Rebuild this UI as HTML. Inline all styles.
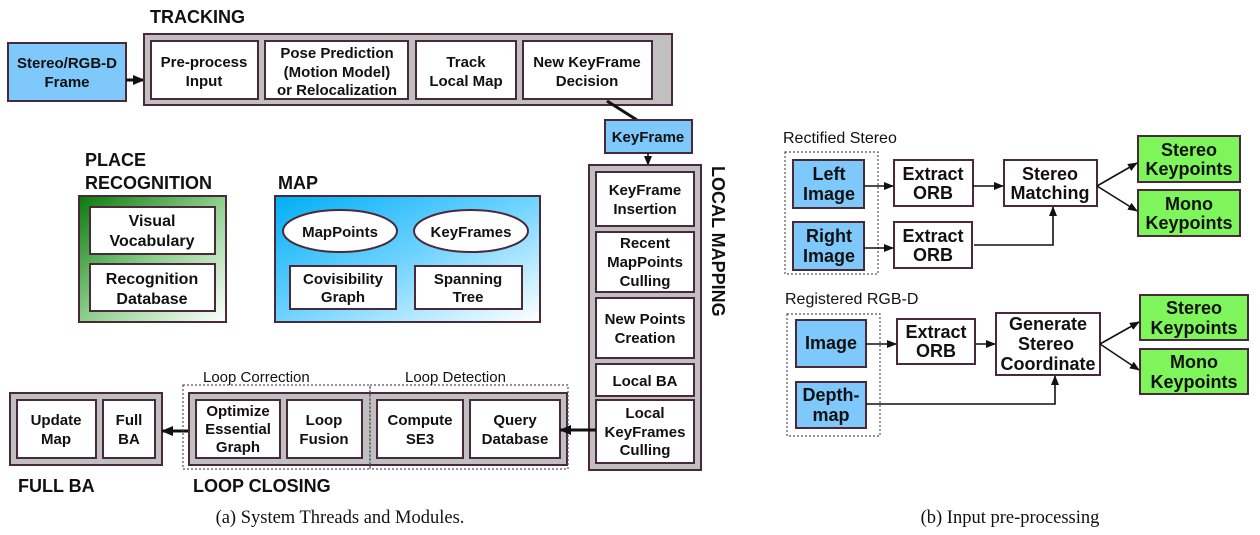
<!DOCTYPE html>
<html><head><meta charset="utf-8"><style>
html,body{margin:0;padding:0;background:#fff;}
svg{display:block;}
text{font-family:"Liberation Sans",sans-serif;font-weight:bold;fill:#111;text-anchor:middle;}
.t{font-size:15px;}
.r{font-size:18px;}
.h{font-size:18px;text-anchor:start;}
.n{font-weight:normal;font-size:15px;text-anchor:start;}
.cap{font-family:"Liberation Serif",serif;font-weight:normal;font-size:18.5px;}
.g{fill:#c0c0c0;stroke:#4a2a3a;stroke-width:2;}
.w{fill:#fff;stroke:#4a2a3a;stroke-width:2;}
.b{fill:#7ec8fb;stroke:#4a2a3a;stroke-width:2;}
.gr{fill:#7ef55a;stroke:#4a2a3a;stroke-width:2;}
.d{fill:none;stroke:#555;stroke-width:1.2;stroke-dasharray:2,2;}
.l{stroke:#111;stroke-width:1.6;fill:none;}
.lt{stroke:#111;stroke-width:3;fill:none;}
</style></head><body>
<svg width="1260" height="535" viewBox="0 0 1260 535">
<defs>
<marker id="a" markerWidth="10" markerHeight="8" refX="9" refY="4" orient="auto" markerUnits="userSpaceOnUse"><path d="M0,0 L10,4 L0,8z" fill="#111"/></marker>
<marker id="A" markerWidth="12" markerHeight="10" refX="11" refY="5" orient="auto" markerUnits="userSpaceOnUse"><path d="M0,0 L12,5 L0,10z" fill="#111"/></marker>
<linearGradient id="pg" x1="0" y1="0" x2="1" y2="1"><stop offset="0" stop-color="#0a7a0a"/><stop offset="0.5" stop-color="#8ccf8c"/><stop offset="1" stop-color="#ffffff"/></linearGradient>
<linearGradient id="mg" x1="0" y1="0" x2="1" y2="1"><stop offset="0" stop-color="#00aef5"/><stop offset="0.5" stop-color="#6fd3ff"/><stop offset="1" stop-color="#ffffff"/></linearGradient>
</defs>

<text class="h" x="150" y="23">TRACKING</text>
<rect class="b" x="8" y="43" width="118" height="58"/>
<text class="t" x="67" y="68">Stereo/RGB-D</text><text class="t" x="67" y="87">Frame</text>
<line class="lt" x1="126" y1="80" x2="144" y2="80" marker-end="url(#A)"/>
<rect class="g" x="144" y="34" width="528" height="71"/>
<rect class="w" x="151" y="41" width="107" height="58"/>
<text class="t" x="204" y="67">Pre-process</text><text class="t" x="204" y="86">Input</text>
<rect class="w" x="265" y="41" width="143" height="58"/>
<text class="t" x="337" y="58">Pose Prediction</text><text class="t" x="337" y="77">(Motion Model)</text><text class="t" x="337" y="95">or Relocalization</text>
<rect class="w" x="416" y="41" width="100" height="58"/>
<text class="t" x="466" y="67">Track</text><text class="t" x="466" y="86">Local Map</text>
<rect class="w" x="523" y="41" width="129" height="58"/>
<text class="t" x="587" y="67">New KeyFrame</text><text class="t" x="587" y="86">Decision</text>
<line class="lt" x1="607" y1="101" x2="637" y2="120"/>
<rect class="b" x="605" y="120" width="87" height="33"/>
<text class="t" x="648" y="142">KeyFrame</text>
<line class="l" x1="648" y1="153" x2="648" y2="165" marker-end="url(#a)"/>

<rect class="g" x="589" y="165" width="112" height="305"/>
<rect class="w" x="596" y="172" width="98" height="54"/>
<text class="t" x="645" y="195">KeyFrame</text><text class="t" x="645" y="214">Insertion</text>
<rect class="w" x="596" y="232" width="98" height="60"/>
<text class="t" x="645" y="248">Recent</text><text class="t" x="645" y="267">MapPoints</text><text class="t" x="645" y="286">Culling</text>
<rect class="w" x="596" y="298" width="98" height="60"/>
<text class="t" x="645" y="324">New Points</text><text class="t" x="645" y="343">Creation</text>
<rect class="w" x="596" y="364" width="98" height="32"/>
<text class="t" x="645" y="386">Local BA</text>
<rect class="w" x="596" y="400" width="98" height="63"/>
<text class="t" x="645" y="418">Local</text><text class="t" x="645" y="437">KeyFrames</text><text class="t" x="645" y="455">Culling</text>
<text class="h" transform="translate(712,166) rotate(90)" x="0" y="0">LOCAL MAPPING</text>

<text class="h" x="85" y="166">PLACE</text>
<text class="h" x="85" y="189">RECOGNITION</text>
<rect x="79" y="196" width="147" height="126" fill="url(#pg)" stroke="#4a2a3a" stroke-width="2"/>
<rect class="w" x="90" y="207" width="125" height="47"/>
<text class="t" x="152" y="226" style="font-size:16px">Visual</text><text class="t" x="152" y="246" style="font-size:16px">Vocabulary</text>
<rect class="w" x="90" y="264" width="125" height="47"/>
<text class="t" x="152" y="284" style="font-size:16px">Recognition</text><text class="t" x="152" y="304" style="font-size:16px">Database</text>

<text class="h" x="278" y="189">MAP</text>
<rect x="275" y="196" width="265" height="126" fill="url(#mg)" stroke="#4a2a3a" stroke-width="2"/>
<ellipse cx="340" cy="231" rx="57" ry="21" fill="#fff" stroke="#4a2a3a" stroke-width="2"/>
<text class="t" x="340" y="237">MapPoints</text>
<ellipse cx="471" cy="231" rx="57" ry="21" fill="#fff" stroke="#4a2a3a" stroke-width="2"/>
<text class="t" x="471" y="237">KeyFrames</text>
<rect class="w" x="290" y="266" width="106" height="43"/>
<text class="t" x="343" y="284">Covisibility</text><text class="t" x="343" y="302">Graph</text>
<rect class="w" x="415" y="266" width="107" height="43"/>
<text class="t" x="468" y="284">Spanning</text><text class="t" x="468" y="302">Tree</text>

<rect class="g" x="10" y="393" width="152" height="72"/>
<rect class="w" x="17" y="400" width="79" height="58"/>
<text class="t" x="56" y="425">Update</text><text class="t" x="56" y="444">Map</text>
<rect class="w" x="103" y="400" width="52" height="58"/>
<text class="t" x="129" y="425">Full</text><text class="t" x="129" y="444">BA</text>
<line class="lt" x1="190" y1="431" x2="162" y2="431" marker-end="url(#A)"/>
<text class="h" x="18" y="492">FULL BA</text>

<rect class="g" x="189" y="393" width="378" height="72"/>
<rect class="w" x="196" y="400" width="84" height="58"/>
<text class="t" x="238" y="416">Optimize</text><text class="t" x="238" y="434">Essential</text><text class="t" x="238" y="452">Graph</text>
<rect class="w" x="287" y="400" width="75" height="58"/>
<text class="t" x="324" y="425">Loop</text><text class="t" x="324" y="444">Fusion</text>
<rect class="w" x="377" y="400" width="86" height="58"/>
<text class="t" x="420" y="425">Compute</text><text class="t" x="420" y="444">SE3</text>
<rect class="w" x="470" y="400" width="90" height="58"/>
<text class="t" x="515" y="425">Query</text><text class="t" x="515" y="444">Database</text>
<rect class="d" x="183" y="385" width="187" height="84"/>
<rect class="d" x="370" y="385" width="198" height="84"/>
<text class="n" x="203" y="382">Loop Correction</text>
<text class="n" x="405" y="382">Loop Detection</text>
<line class="lt" x1="596" y1="430" x2="560" y2="430" marker-end="url(#A)"/>
<text class="h" x="193" y="492">LOOP CLOSING</text>

<text class="cap" x="340" y="523">(a) System Threads and Modules.</text>

<text class="n" x="783" y="143" style="font-size:16px">Rectified Stereo</text>
<rect class="d" x="785" y="152" width="93" height="122"/>
<rect class="b" x="793" y="160" width="71" height="48"/>
<text class="r" x="829" y="180">Left</text><text class="r" x="829" y="200">Image</text>
<rect class="b" x="793" y="222" width="71" height="48"/>
<text class="r" x="829" y="242">Right</text><text class="r" x="829" y="262">Image</text>
<rect class="w" x="894" y="160" width="79" height="46"/>
<text class="r" x="933" y="180">Extract</text><text class="r" x="933" y="199">ORB</text>
<rect class="w" x="894" y="222" width="78" height="46"/>
<text class="r" x="933" y="242">Extract</text><text class="r" x="933" y="261">ORB</text>
<rect class="w" x="1004" y="160" width="93" height="46"/>
<text class="r" x="1050" y="180">Stereo</text><text class="r" x="1050" y="199">Matching</text>
<rect class="gr" x="1138" y="136" width="102" height="46"/>
<text class="r" x="1189" y="156">Stereo</text><text class="r" x="1189" y="175">Keypoints</text>
<rect class="gr" x="1138" y="190" width="102" height="46"/>
<text class="r" x="1189" y="210">Mono</text><text class="r" x="1189" y="229">Keypoints</text>
<line class="l" x1="864" y1="186" x2="893" y2="186" marker-end="url(#a)"/>
<line class="l" x1="864" y1="248" x2="893" y2="248" marker-end="url(#a)"/>
<line class="l" x1="973" y1="186" x2="1003" y2="186" marker-end="url(#a)"/>
<polyline class="l" points="974,245 1053,245 1053,207" marker-end="url(#a)"/>
<line class="l" x1="1097" y1="186" x2="1137" y2="163" marker-end="url(#a)"/>
<line class="l" x1="1097" y1="186" x2="1137" y2="211" marker-end="url(#a)"/>

<text class="n" x="785" y="304" style="font-size:16px">Registered RGB-D</text>
<rect class="d" x="787" y="314" width="93" height="122"/>
<rect class="b" x="796" y="320" width="70" height="47"/>
<text class="r" x="831" y="349">Image</text>
<rect class="b" x="796" y="382" width="70" height="46"/>
<text class="r" x="831" y="401">Depth-</text><text class="r" x="831" y="421">map</text>
<rect class="w" x="897" y="319" width="78" height="45"/>
<text class="r" x="936" y="338">Extract</text><text class="r" x="936" y="357">ORB</text>
<rect class="w" x="996" y="313" width="104" height="62"/>
<text class="r" x="1048" y="330">Generate</text><text class="r" x="1046" y="350">Stereo</text><text class="r" x="1048" y="370">Coordinate</text>
<rect class="gr" x="1140" y="295" width="108" height="45"/>
<text class="r" x="1194" y="314">Stereo</text><text class="r" x="1194" y="334">Keypoints</text>
<rect class="gr" x="1140" y="349" width="108" height="45"/>
<text class="r" x="1194" y="368">Mono</text><text class="r" x="1194" y="388">Keypoints</text>
<line class="l" x1="866" y1="344" x2="896" y2="344" marker-end="url(#a)"/>
<line class="l" x1="976" y1="344" x2="995" y2="344" marker-end="url(#a)"/>
<polyline class="l" points="866,404 1055,404 1055,376" marker-end="url(#a)"/>
<line class="l" x1="1100" y1="344" x2="1139" y2="322" marker-end="url(#a)"/>
<line class="l" x1="1100" y1="344" x2="1139" y2="370" marker-end="url(#a)"/>

<text class="cap" x="1010" y="523">(b) Input pre-processing</text>
</svg>
</body></html>
